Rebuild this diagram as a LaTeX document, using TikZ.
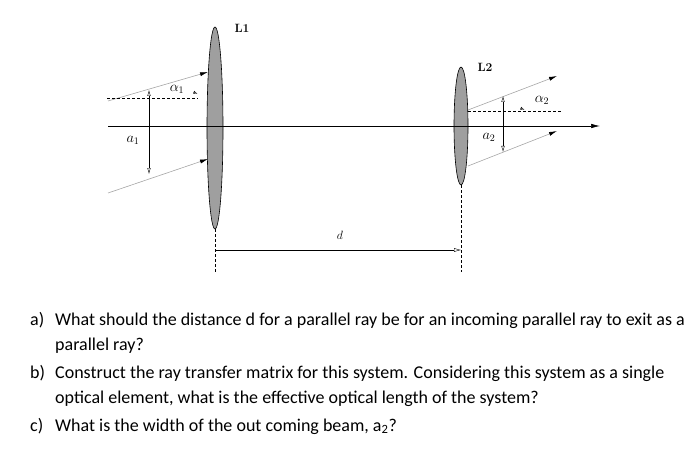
\documentclass[tikz,border=0pt]{standalone}
\usepackage{fontspec}
\newfontfamily\carl{Carlito}
\usetikzlibrary{arrows.meta}
\begin{document}
\begin{tikzpicture}[x=1pt,y=-1pt,
 ray/.style={gray!70,semithick,-{Latex[length=8pt,width=4pt,black]}},
 dim/.style={black,thin,{Latex[open,length=6pt,width=3.5pt]}-{Latex[open,length=6pt,width=3.5pt]}},
 dsh/.style={densely dashed,semithick},
 lens/.style={fill=gray!75,draw=black,semithick},
 lab/.style={font=\Large},
 q/.style={anchor=base west,font=\carl\fontsize{18}{20}\selectfont,inner sep=0}]
\useasboundingbox (0,0) rectangle (700,457);
\draw[lens] (215,128) ellipse [x radius=8,y radius=101];
\draw[lens] (461,126) ellipse [x radius=7,y radius=59];
\coordinate (ax0) at (108,126); \coordinate (ax1) at (600,126);
\draw[semithick,-{Latex[length=9pt,width=4.5pt]}] (ax0) -- (ax1);
% left rays
\draw[ray] (108,101) -- (208,72); \draw[ray] (108,193) -- (208,159);
\draw[dsh] (107,98) -- (198,98);
\draw[dim] (149,90) -- (149,174);
\node[lab] at (133,140) {$a_1$};
\node[lab] at (177,89) {$\alpha_1$};
\draw[thin,-{Latex[open,length=4pt,width=3pt]}] (194,93) arc[start angle=-90,end angle=-70,radius=10];
% right rays
\draw[ray] (468,110) -- (557,76); \draw[ray] (468,166) -- (557,131);
\draw[dsh] (468,111) -- (561,111);
\draw[dim] (503,96) -- (503,152);
\node[lab] at (489,137) {$a_2$};
\node[lab] at (542,100) {$\alpha_2$};
\draw[thin,-{Latex[open,length=4pt,width=3pt]}] (521,109) arc[start angle=-90,end angle=-70,radius=10];
% labels
\node[font=\bfseries\large] at (242,28) {L1};
\node[font=\bfseries\large] at (485,67) {L2};
% dimension d
\draw[dsh] (215,229) -- (215,272);
\draw[dsh] (461,185) -- (461,272);
\draw[thin,-{Latex[open,length=7pt,width=4pt]}] (215,250) -- (461,250);
\node[font=\large] at (340,235) {$d$};
% questions
\node[q] at (30,325) {a)};
\node[q] at (55,325) {What should the distance d for a parallel ray be for an incoming parallel ray to exit as a};
\node[q] at (55,350) {parallel ray?};
\node[q] at (30,378) {b)};
\node[q] at (55,378) {Construct the ray transfer matrix for this system. Considering this system as a single};
\node[q] at (55,403) {optical element, what is the effective optical length of the system?};
\node[q] at (30,431) {c)};
\node[q] at (55,431) {What is the width of the out coming beam, a\textsubscript{2}?};
\end{tikzpicture}
\end{document}
